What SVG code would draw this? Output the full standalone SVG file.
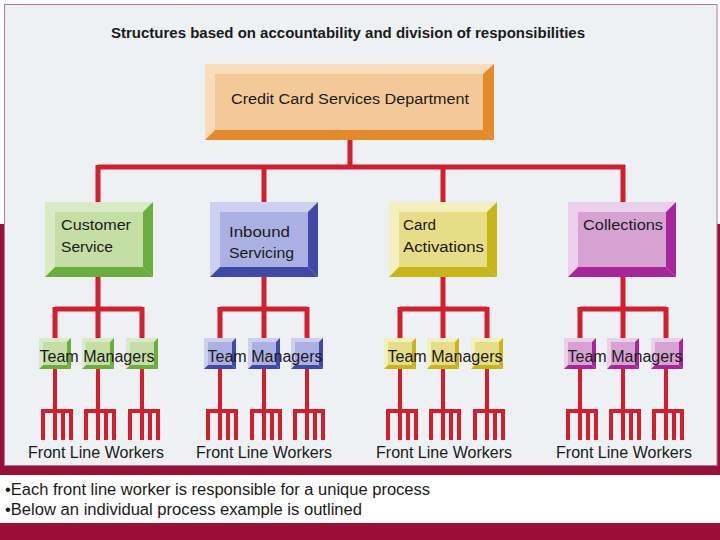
<svg xmlns="http://www.w3.org/2000/svg" width="720" height="540" viewBox="0 0 720 540">
<style>
.t{font-family:"Liberation Sans",Arial,sans-serif;fill:#1a1a1a}
.c{fill:none;stroke:#d21f2d;stroke-width:5}
.r{fill:none;stroke:#d21f2d;stroke-width:4}
.oL{fill:#f9dcba}.oF{fill:#f4c998}.oD{fill:#e48a2a}
.gL{fill:#d9ebc6}.gF{fill:#c4dea6}.gD{fill:#6cae3e}
.bL{fill:#cdd0f0}.bF{fill:#aab0e2}.bD{fill:#3f49a6}
.yL{fill:#f4efbf}.yF{fill:#e6dd86}.yD{fill:#c7b61a}
.pL{fill:#ecd0ea}.pF{fill:#d6a2d2}.pD{fill:#a7279a}
</style>
<rect x="0" y="0" width="720" height="540" fill="#ffffff"/>
<rect x="0" y="224" width="720" height="316" fill="#9a0f35"/>
<rect x="0" y="475" width="720" height="48" fill="#ffffff"/>
<rect x="4.5" y="4.5" width="712.5" height="461" fill="#eef1f3" stroke="#b27896" stroke-width="1"/>

<text class="t" x="348" y="38" font-size="14.5" font-weight="bold" text-anchor="middle" textLength="474" lengthAdjust="spacingAndGlyphs">Structures based on accountability and division of responsibilities</text>

<g id="connectors">
<path class="c" d="M350 140V167M98 167H625M98 165V202M264 165V202M443 165V202M623 165V202"/>
<path class="c" d="M98 277V309M55 309H142M55 307V338M98 307V338M142 307V338"/>
<path class="c" d="M264 277V309M220 309H307M220 307V338M264 307V338M307 307V338"/>
<path class="c" d="M443 277V309M400 309H487M400 307V338M443 307V338M487 307V338"/>
<path class="c" d="M623 277V309M580 309H666M580 307V338M623 307V338M666 307V338"/>
<path class="r" d="M55 369V440M98 369V440M142 369V440M220 369V440M264 369V440M307 369V440M400 369V440M443 369V440M487 369V440M580 369V440M623 369V440M666 369V440"/>
<path class="r" d="M43 440V411H71V440M63 411V440M86 440V411H114V440M106 411V440M130 440V411H158V440M150 411V440M208 440V411H236V440M228 411V440M252 440V411H280V440M272 411V440M295 440V411H323V440M315 411V440M388 440V411H416V440M408 411V440M431 440V411H459V440M451 411V440M475 440V411H503V440M495 411V440M568 440V411H596V440M588 411V440M611 440V411H639V440M631 411V440M654 440V411H682V440M674 411V440"/>
</g>

<g id="dept">
<rect class="oL" x="205" y="64" width="289" height="76"/>
<polygon class="oD" points="494,64 494,140 483,130 483,74"/>
<polygon class="oD" points="205,140 494,140 483,130 215,130"/>
<rect class="oF" x="215" y="74" width="268" height="56"/>
<text class="t" x="350" y="104" font-size="15.5" text-anchor="middle" textLength="238" lengthAdjust="spacingAndGlyphs">Credit Card Services Department</text>
</g>

<g id="customer-service">
<rect class="gL" x="45" y="202" width="108" height="75"/>
<polygon class="gD" points="153,202 153,277 143,267 143,212"/>
<polygon class="gD" points="45,277 153,277 143,267 55,267"/>
<rect class="gF" x="55" y="212" width="88" height="55"/>
<text class="t" x="61" y="230" font-size="15.5" textLength="70" lengthAdjust="spacingAndGlyphs">Customer</text>
<text class="t" x="61" y="252" font-size="15.5" textLength="52" lengthAdjust="spacingAndGlyphs">Service</text>
</g>

<g id="inbound-servicing">
<rect class="bL" x="210" y="202" width="108" height="75"/>
<polygon class="bD" points="318,202 318,277 308,267 308,212"/>
<polygon class="bD" points="210,277 318,277 308,267 220,267"/>
<rect class="bF" x="220" y="212" width="88" height="55"/>
<text class="t" x="229" y="237" font-size="15.5" textLength="61" lengthAdjust="spacingAndGlyphs">Inbound</text>
<text class="t" x="229" y="258" font-size="15.5" textLength="65" lengthAdjust="spacingAndGlyphs">Servicing</text>
</g>

<g id="card-activations">
<rect class="yL" x="389" y="202" width="108" height="75"/>
<polygon class="yD" points="497,202 497,277 487,267 487,212"/>
<polygon class="yD" points="389,277 497,277 487,267 399,267"/>
<rect class="yF" x="399" y="212" width="88" height="55"/>
<text class="t" x="403" y="230" font-size="15.5" textLength="33" lengthAdjust="spacingAndGlyphs">Card</text>
<text class="t" x="403" y="252" font-size="15.5" textLength="81" lengthAdjust="spacingAndGlyphs">Activations</text>
</g>

<g id="collections">
<rect class="pL" x="568" y="202" width="108" height="75"/>
<polygon class="pD" points="676,202 676,277 666,267 666,212"/>
<polygon class="pD" points="568,277 676,277 666,267 578,267"/>
<rect class="pF" x="578" y="212" width="88" height="55"/>
<text class="t" x="583" y="230" font-size="15.5" textLength="80" lengthAdjust="spacingAndGlyphs">Collections</text>
</g>

<g id="tm-customer">
<g><rect class="gL" x="39" y="338" width="32" height="31"/><polygon class="gD" points="71,338 71,369 67,365 67,342"/><polygon class="gD" points="39,369 71,369 67,365 43,365"/><rect class="gF" x="43" y="342" width="24" height="23"/></g>
<g><rect class="gL" x="82" y="338" width="32" height="31"/><polygon class="gD" points="114,338 114,369 110,365 110,342"/><polygon class="gD" points="82,369 114,369 110,365 86,365"/><rect class="gF" x="86" y="342" width="24" height="23"/></g>
<g><rect class="gL" x="126" y="338" width="32" height="31"/><polygon class="gD" points="158,338 158,369 154,365 154,342"/><polygon class="gD" points="126,369 158,369 154,365 130,365"/><rect class="gF" x="130" y="342" width="24" height="23"/></g>
<text class="t" x="97" y="362" font-size="16" text-anchor="middle" textLength="115" lengthAdjust="spacingAndGlyphs">Team Managers</text>
</g>

<g id="tm-inbound">
<g><rect class="bL" x="204" y="338" width="32" height="31"/><polygon class="bD" points="236,338 236,369 232,365 232,342"/><polygon class="bD" points="204,369 236,369 232,365 208,365"/><rect class="bF" x="208" y="342" width="24" height="23"/></g>
<g><rect class="bL" x="248" y="338" width="32" height="31"/><polygon class="bD" points="280,338 280,369 276,365 276,342"/><polygon class="bD" points="248,369 280,369 276,365 252,365"/><rect class="bF" x="252" y="342" width="24" height="23"/></g>
<g><rect class="bL" x="291" y="338" width="32" height="31"/><polygon class="bD" points="323,338 323,369 319,365 319,342"/><polygon class="bD" points="291,369 323,369 319,365 295,365"/><rect class="bF" x="295" y="342" width="24" height="23"/></g>
<text class="t" x="265" y="362" font-size="16" text-anchor="middle" textLength="115" lengthAdjust="spacingAndGlyphs">Team Managers</text>
</g>

<g id="tm-card">
<g><rect class="yL" x="384" y="338" width="32" height="31"/><polygon class="yD" points="416,338 416,369 412,365 412,342"/><polygon class="yD" points="384,369 416,369 412,365 388,365"/><rect class="yF" x="388" y="342" width="24" height="23"/></g>
<g><rect class="yL" x="427" y="338" width="32" height="31"/><polygon class="yD" points="459,338 459,369 455,365 455,342"/><polygon class="yD" points="427,369 459,369 455,365 431,365"/><rect class="yF" x="431" y="342" width="24" height="23"/></g>
<g><rect class="yL" x="471" y="338" width="32" height="31"/><polygon class="yD" points="503,338 503,369 499,365 499,342"/><polygon class="yD" points="471,369 503,369 499,365 475,365"/><rect class="yF" x="475" y="342" width="24" height="23"/></g>
<text class="t" x="445" y="362" font-size="16" text-anchor="middle" textLength="115" lengthAdjust="spacingAndGlyphs">Team Managers</text>
</g>

<g id="tm-collections">
<g><rect class="pL" x="564" y="338" width="32" height="31"/><polygon class="pD" points="596,338 596,369 592,365 592,342"/><polygon class="pD" points="564,369 596,369 592,365 568,365"/><rect class="pF" x="568" y="342" width="24" height="23"/></g>
<g><rect class="pL" x="607" y="338" width="32" height="31"/><polygon class="pD" points="639,338 639,369 635,365 635,342"/><polygon class="pD" points="607,369 639,369 635,365 611,365"/><rect class="pF" x="611" y="342" width="24" height="23"/></g>
<g><rect class="pL" x="651" y="338" width="32" height="31"/><polygon class="pD" points="683,338 683,369 679,365 679,342"/><polygon class="pD" points="651,369 683,369 679,365 655,365"/><rect class="pF" x="655" y="342" width="24" height="23"/></g>
<text class="t" x="625" y="362" font-size="16" text-anchor="middle" textLength="115" lengthAdjust="spacingAndGlyphs">Team Managers</text>
</g>

<g id="flw">
<text class="t" x="96" y="458" font-size="16" text-anchor="middle" textLength="136" lengthAdjust="spacingAndGlyphs">Front Line Workers</text>
<text class="t" x="264" y="458" font-size="16" text-anchor="middle" textLength="136" lengthAdjust="spacingAndGlyphs">Front Line Workers</text>
<text class="t" x="444" y="458" font-size="16" text-anchor="middle" textLength="136" lengthAdjust="spacingAndGlyphs">Front Line Workers</text>
<text class="t" x="624" y="458" font-size="16" text-anchor="middle" textLength="136" lengthAdjust="spacingAndGlyphs">Front Line Workers</text>
</g>

<g id="notes">
<text class="t" x="5" y="495" font-size="16" textLength="425" lengthAdjust="spacingAndGlyphs">•Each front line worker is responsible for a unique process</text>
<text class="t" x="5" y="515" font-size="16" textLength="357" lengthAdjust="spacingAndGlyphs">•Below an individual process example is outlined</text>
</g>
</svg>
